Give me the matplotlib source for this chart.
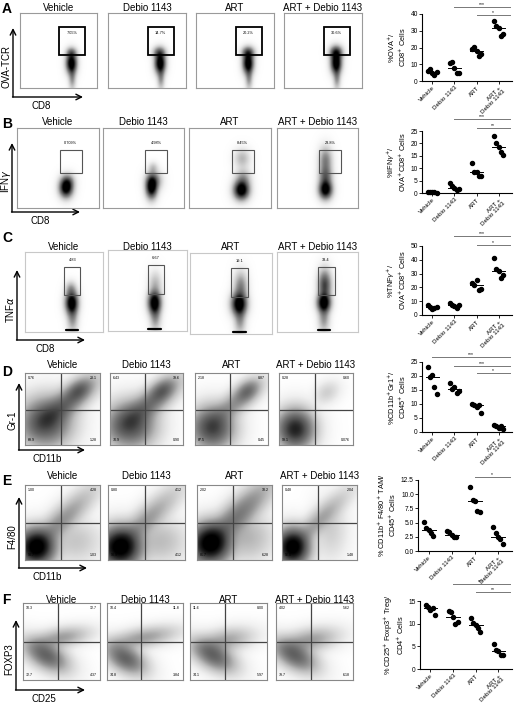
import numpy as np
import matplotlib.pyplot as plt
from matplotlib.patches import Rectangle

W, H = 520, 703

# ---- data -------------------------------------------------------------
groups = ['Vehicle', 'Debio 1143', 'ART', 'ART + Debio 1143']
dot_groups = ['Vehicle', 'Debio 1143', 'ART', 'ART +\nDebio 1143']

# gate percentages shown in the flow plots (rows A-C)
ova_gate = ['7.05%', '14.7%', '20.2%', '30.6%']
ifng_gate = ['0.709%', '4.98%', '8.45%', '23.8%']
tnfa_gate = ['4.83', '6.67', '19.1', '33.4']

# quadrant values: top-left, top-right, bottom-right, bottom-left (rows D-F)
gr1_quads = [['0.76', '23.1', '1.28', '69.9'], ['6.43', '19.6', '0.90', '70.9'],
             ['2.18', '8.87', '0.45', '87.5'], ['0.28', '0.60', '0.076', '99.1']]
f480_quads = [['1.00', '4.28', '1.03', '93.7'], ['0.80', '4.12', '4.12', '90.9'],
              ['2.02', '18.2', '6.28', '81.7'], ['0.48', '2.04', '1.48', '96.0']]
foxp3_quads = [['10.3', '12.7', '4.37', '72.7'], ['10.4', '11.8', '3.84', '74.8'],
               ['11.6', '8.00', '5.97', '74.1'], ['4.02', '5.62', '6.18', '79.7']]

# density blobs (cx, cy, sx, sy, angle, weight) per flow panel
ova_blobs = [
    [(0.67, 0.33, 0.030, 0.060, 0, 1.0), (0.68, 0.14, 0.020, 0.070, 0, 0.25), (0.67, 0.47, 0.030, 0.030, 0, 0.30)],
    [(0.67, 0.33, 0.030, 0.060, 0, 1.0), (0.68, 0.14, 0.020, 0.070, 0, 0.25), (0.66, 0.47, 0.035, 0.035, 0, 0.40)],
    [(0.67, 0.33, 0.030, 0.060, 0, 1.0), (0.68, 0.14, 0.020, 0.070, 0, 0.25), (0.67, 0.47, 0.035, 0.035, 0, 0.50)],
    [(0.67, 0.33, 0.030, 0.060, 0, 1.0), (0.68, 0.14, 0.020, 0.070, 0, 0.25), (0.67, 0.47, 0.035, 0.040, 0, 0.65)],
]
ifng_blobs = [
    [(0.60, 0.25, 0.035, 0.050, 0, 1.0), (0.62, 0.33, 0.035, 0.040, 0, 0.30)],
    [(0.60, 0.26, 0.030, 0.060, 0, 1.0), (0.63, 0.34, 0.040, 0.050, 0, 0.35), (0.62, 0.50, 0.025, 0.030, 0, 0.12)],
    [(0.64, 0.22, 0.040, 0.050, 0, 1.0), (0.66, 0.35, 0.040, 0.060, 0, 0.25), (0.65, 0.62, 0.040, 0.050, 0, 0.15)],
    [(0.60, 0.23, 0.035, 0.050, 0, 1.0), (0.60, 0.40, 0.035, 0.060, 0, 0.40), (0.60, 0.60, 0.035, 0.070, 0, 0.30)],
]
tnfa_blobs = [
    [(0.60, 0.36, 0.035, 0.060, 0, 1.0), (0.61, 0.18, 0.030, 0.080, 0, 0.25), (0.59, 0.53, 0.030, 0.040, 0, 0.20)],
    [(0.59, 0.35, 0.035, 0.060, 0, 1.0), (0.60, 0.18, 0.030, 0.080, 0, 0.25), (0.60, 0.57, 0.035, 0.070, 0, 0.15)],
    [(0.60, 0.37, 0.040, 0.060, 0, 1.0), (0.61, 0.18, 0.030, 0.080, 0, 0.25), (0.62, 0.58, 0.035, 0.080, 0, 0.30)],
    [(0.58, 0.36, 0.035, 0.050, 0, 1.0), (0.58, 0.18, 0.030, 0.080, 0, 0.25), (0.59, 0.58, 0.035, 0.080, 0, 0.55)],
]
# thin saturated bar at the bottom of each TNFa panel (x centre)
tnfa_floor = [0.60, 0.59, 0.60, 0.58]
gr1_blobs = [
    [(0.28, 0.32, 0.15, 0.15, 0, 0.9), (0.55, 0.58, 0.24, 0.08, 40, 0.55), (0.72, 0.76, 0.09, 0.06, 40, 0.45)],
    [(0.28, 0.28, 0.15, 0.14, 0, 0.9), (0.55, 0.58, 0.24, 0.08, 40, 0.50), (0.72, 0.76, 0.09, 0.06, 40, 0.45)],
    [(0.24, 0.24, 0.13, 0.13, 0, 1.0), (0.55, 0.58, 0.20, 0.07, 40, 0.30), (0.72, 0.75, 0.09, 0.06, 40, 0.45)],
    [(0.22, 0.22, 0.11, 0.12, 0, 1.3), (0.65, 0.73, 0.08, 0.06, 40, 0.08)],
]
f480_blobs = [
    [(0.15, 0.17, 0.10, 0.10, 0, 2.0), (0.45, 0.48, 0.28, 0.07, 45, 0.25), (0.68, 0.25, 0.14, 0.12, 0, 0.07)],
    [(0.16, 0.17, 0.11, 0.11, 0, 2.0), (0.45, 0.48, 0.28, 0.07, 45, 0.22), (0.68, 0.25, 0.14, 0.12, 0, 0.10)],
    [(0.18, 0.22, 0.11, 0.11, 0, 2.0), (0.50, 0.55, 0.30, 0.08, 45, 0.40), (0.68, 0.30, 0.14, 0.13, 0, 0.12)],
    [(0.14, 0.17, 0.09, 0.10, 0, 2.0), (0.45, 0.48, 0.26, 0.06, 45, 0.18), (0.65, 0.40, 0.09, 0.16, 0, 0.05)],
]
foxp3_blobs = [
    [(0.30, 0.32, 0.08, 0.15, 60, 0.9), (0.50, 0.55, 0.17, 0.06, 10, 0.40)],
    [(0.24, 0.28, 0.08, 0.14, 60, 0.9), (0.48, 0.55, 0.21, 0.06, 10, 0.40)],
    [(0.30, 0.32, 0.08, 0.15, 60, 0.9), (0.48, 0.52, 0.16, 0.07, 10, 0.35)],
    [(0.24, 0.32, 0.08, 0.15, 60, 0.9), (0.45, 0.52, 0.17, 0.07, 10, 0.40)],
]

# dot plot values (five mice per group)
ova_vals = [[6.0, 7.0, 5.0, 3.5, 5.5], [10.5, 11.5, 8.0, 4.5, 5.0],
            [19.0, 20.5, 18.0, 15.0, 16.0], [36.0, 33.0, 31.5, 27.0, 28.0]]
ifng_vals = [[0.5, 0.3, 0.4, 0.6, 0.2], [4.2, 3.0, 2.2, 1.2, 1.5],
             [12.0, 8.5, 8.6, 6.8, 6.9], [22.8, 20.0, 18.5, 16.5, 15.5]]
tnfa_vals = [[7.0, 6.0, 4.5, 5.0, 6.0], [9.0, 7.0, 6.5, 5.0, 7.5],
             [23.0, 22.0, 25.0, 18.0, 18.5], [41.0, 33.0, 32.0, 27.0, 29.0]]
gr1_vals = [[23.3, 19.5, 20.5, 16.0, 13.5], [17.5, 15.5, 16.0, 14.0, 14.5],
            [10.0, 9.5, 9.0, 9.8, 6.8], [2.5, 2.0, 1.5, 2.2, 1.0]]
f480_vals = [[5.1, 4.0, 3.7, 3.2, 2.6], [3.5, 3.3, 2.9, 2.5, 2.4],
             [11.2, 9.0, 8.8, 7.0, 6.9], [4.2, 3.1, 2.4, 2.1, 1.2]]
foxp3_vals = [[14.2, 13.7, 13.0, 13.4, 12.0], [12.9, 12.6, 11.5, 10.0, 10.3],
              [11.2, 10.1, 9.8, 9.0, 8.1], [5.6, 4.3, 3.9, 3.1, 3.0]]

# ---- figure -----------------------------------------------------------
fig = plt.figure(figsize=(W / 100, H / 100), dpi=100)
plt.rcParams['font.family'] = ['Liberation Sans', 'DejaVu Sans']

# overlay in pixel coordinates for letters, titles and axis arrows
ov = fig.add_axes([0, 0, 1, 1])
ov.set_xlim(0, W)
ov.set_ylim(H, 0)
ov.axis('off')


def px_axes(x0, y0, x1, y1):
    return fig.add_axes([x0 / W, 1 - y1 / H, (x1 - x0) / W, (y1 - y0) / H])


def density(blobs, spread, n=140):
    g = np.linspace(0, 1, n)
    X, Y = np.meshgrid(g, g)
    Z = np.zeros_like(X)
    for cx, cy, sx, sy, ang, w in blobs:
        t = np.deg2rad(ang)
        u = (X - cx) * np.cos(t) + (Y - cy) * np.sin(t)
        v = -(X - cx) * np.sin(t) + (Y - cy) * np.cos(t)
        Z += w * np.exp(-0.5 * ((u / (sx * spread)) ** 2 + (v / (sy * spread)) ** 2))
    return Z


def flow_panel(box, blobs, gamma=0.6, vmax=1.0, spread=1.4, edge='#9a9a9a'):
    ax = px_axes(*box)
    Z = density(blobs, spread) ** gamma
    ax.imshow(Z, extent=[0, 1, 0, 1], origin='lower', cmap='Greys',
              vmin=0, vmax=vmax, aspect='auto', interpolation='bilinear')
    ax.set_xlim(0, 1)
    ax.set_ylim(0, 1)
    ax.set_xticks([])
    ax.set_yticks([])
    for s in ax.spines.values():
        s.set_color(edge)
        s.set_linewidth(0.8)
    return ax


def row_frame(letter, letter_y, title_y, boxes, xlab, ylab, arrow):
    ov.text(2, letter_y, letter, fontsize=10, fontweight='bold', va='center')
    for (x0, y0, x1, y1), name in zip(boxes, groups):
        ov.text((x0 + x1) / 2, title_y, name, fontsize=7, ha='center', va='center')
    ax_x, y_top, y_bot, x_end = arrow
    ov.annotate('', xy=(ax_x, y_top), xytext=(ax_x, y_bot),
                arrowprops=dict(arrowstyle='->', lw=1.0, color='black', shrinkA=0, shrinkB=0))
    ov.annotate('', xy=(x_end, y_bot), xytext=(ax_x - 0.5, y_bot),
                arrowprops=dict(arrowstyle='->', lw=1.0, color='black', shrinkA=0, shrinkB=0))
    ov.text(max(ax_x - 7, 6), (y_top + y_bot) / 2 + 4, ylab, rotation=90, fontsize=7,
            ha='center', va='center')
    ov.text(ax_x + 28, y_bot + 9, xlab, fontsize=7, ha='center', va='center')


# Row A
boxes_a = [(20, 13, 97, 88), (108, 13, 186, 88), (196, 13, 274, 88), (284, 13, 362, 88)]
row_frame('A', 9, 8, boxes_a, 'CD8', 'OVA-TCR', (13, 28, 97, 83))
for box, blobs, lab in zip(boxes_a, ova_blobs, ova_gate):
    ax = flow_panel(box, blobs, gamma=0.55, vmax=0.9)
    ax.add_patch(Rectangle((0.51, 0.44), 0.33, 0.37, fill=False, ec='black', lw=1.3))
    ax.text(0.675, 0.74, lab, fontsize=2.8, ha='center', va='center')

# Row B
boxes_b = [(17, 128, 99, 208), (103, 128, 184, 208), (189, 128, 271, 208), (277, 128, 358, 208)]
row_frame('B', 124, 122, boxes_b, 'CD8', 'IFN$\\gamma$', (12, 143, 212, 80))
for box, blobs, lab in zip(boxes_b, ifng_blobs, ifng_gate):
    ax = flow_panel(box, blobs, gamma=0.55, vmax=0.9)
    ax.add_patch(Rectangle((0.52, 0.44), 0.27, 0.28, fill=False, ec='#555555', lw=0.8))
    ax.text(0.655, 0.81, lab, fontsize=2.8, ha='center', va='center')

# Row C
boxes_c = [(25, 252, 103, 332), (108, 250, 187, 331), (190, 253, 272, 334), (277, 252, 358, 332)]
row_frame('C', 238, 247, boxes_c, 'CD8', 'TNF$\\alpha$', (17, 270, 340, 85))
for box, blobs, lab, fx in zip(boxes_c, tnfa_blobs, tnfa_gate, tnfa_floor):
    ax = flow_panel(box, blobs, gamma=0.55, vmax=0.9, edge='#c8c8c8')
    ax.add_patch(Rectangle((0.50, 0.46), 0.21, 0.35, fill=False, ec='#555555', lw=0.8))
    ax.text(0.605, 0.9, lab, fontsize=2.8, ha='center', va='center')
    ax.plot([fx - 0.08, fx + 0.08], [0.025, 0.025], color='black', lw=1.6,
            solid_capstyle='round')


def quad_panel(box, blobs, quads, qx, qy, gamma=0.4, vmax=1.25):
    ax = flow_panel(box, blobs, gamma=gamma, vmax=vmax, spread=1.25, edge='#888888')
    ax.axvline(qx, color='#444444', lw=0.9)
    ax.axhline(qy, color='#444444', lw=0.9)
    tl, tr, br, bl = quads
    ax.text(0.04, 0.93, tl, fontsize=2.6, ha='left', va='center')
    ax.text(0.96, 0.93, tr, fontsize=2.6, ha='right', va='center')
    ax.text(0.96, 0.07, br, fontsize=2.6, ha='right', va='center')
    ax.text(0.04, 0.07, bl, fontsize=2.6, ha='left', va='center')
    return ax


# Row D
boxes_d = [(25, 373, 100, 445), (110, 373, 183, 445), (195, 373, 268, 445), (279, 373, 353, 445)]
row_frame('D', 372, 365, boxes_d, 'CD11b', 'Gr-1', (19, 383, 450, 85))
for box, blobs, q in zip(boxes_d, gr1_blobs, gr1_quads):
    quad_panel(box, blobs, q, 0.48, 0.48)

# Row E
boxes_e = [(25, 485, 100, 560), (108, 485, 185, 560), (197, 485, 272, 560), (282, 485, 357, 560)]
row_frame('E', 481, 476, boxes_e, 'CD11b', 'F4/80', (19, 497, 568, 87))
for box, blobs, q in zip(boxes_e, f480_blobs, f480_quads):
    quad_panel(box, blobs, q, 0.48, 0.5, gamma=0.35, vmax=1.2)

# Row F
boxes_f = [(23, 603, 100, 680), (107, 603, 183, 680), (190, 603, 267, 680), (276, 603, 353, 680)]
row_frame('F', 600, 600, boxes_f, 'CD25', 'FOXP3', (16, 620, 690, 85))
for box, blobs, q in zip(boxes_f, foxp3_blobs, foxp3_quads):
    quad_panel(box, blobs, q, 0.45, 0.5, gamma=0.45, vmax=1.4)


# ---- dot plots ---------------------------------------------------------
def dot_plot(left, top, bottom, ymax, ystep, vals, ylabel, sig, fmt='{:g}'):
    ax = px_axes(left, top, 512, bottom)
    for i, v in enumerate(vals):
        xs = i + np.linspace(-0.2, 0.2, len(v))
        ax.plot(xs, v, 'o', color='black', ms=2.9, clip_on=False)
        ax.plot([i - 0.3, i + 0.3], [np.median(v)] * 2, color='black', lw=0.7)
    ax.set_xlim(-0.46, 3.6)
    ax.set_ylim(0, ymax)
    ticks = np.arange(0, ymax + ystep / 2, ystep)
    ax.set_yticks(ticks)
    ax.set_yticklabels([fmt.format(t) for t in ticks], fontsize=4.8)
    ax.set_xticks(range(4))
    ax.set_xticklabels(dot_groups, fontsize=4.5, rotation=45, ha='right',
                       rotation_mode='anchor', linespacing=1.0)
    ax.tick_params(length=2, width=0.6, pad=1)
    ax.spines['top'].set_visible(False)
    ax.spines['right'].set_visible(False)
    ax.spines['left'].set_linewidth(0.8)
    ax.spines['bottom'].set_linewidth(0.8)
    ax.set_ylabel(ylabel, fontsize=5.3, labelpad=2, linespacing=1.1)
    tr = ax.get_xaxis_transform()
    for start, y_px, stars in sig:
        yf = (bottom - y_px) / (bottom - top)
        ax.plot([start, 3.5], [yf, yf], color='#777777', lw=0.7, transform=tr, clip_on=False)
        ax.text((start + 3.5) / 2, yf + 0.005, stars, fontsize=3.6, ha='center', va='bottom',
                transform=tr)
    return ax


dot_plot(422, 14, 81, 40, 10, ova_vals, '%OVA$^{+}$/\nCD8$^{+}$ Cells',
         [(1, 7, '***'), (2, 15, '*')])
dot_plot(422, 131, 193, 25, 5, ifng_vals, '%IFN$\\gamma^{+}$/\nOVA$^{+}$CD8$^{+}$ Cells',
         [(1, 119, '***'), (2, 128, '**')])
dot_plot(422, 246, 315, 50, 10, tnfa_vals, '%TNF$\\gamma^{+}$/\nOVA$^{+}$CD8$^{+}$ Cells',
         [(1, 236, '***'), (2, 245, '*')])
dot_plot(422, 362, 432, 25, 5, gr1_vals, '%CD11b$^{+}$Gr1$^{+}$/\nCD45$^{+}$ Cells',
         [(0, 357, '***'), (1, 366, '***'), (2, 373, '*')])
dot_plot(418, 480, 551, 12.5, 2.5, f480_vals, '% CD11b$^{+}$ F4/80$^{+}$ TAM/\nCD45$^{+}$ Cells',
         [(2, 477, '*')], fmt='{:.1f}')
dot_plot(420, 601, 669, 15, 5, foxp3_vals, '% CD25$^{+}$ Foxp3$^{+}$ Treg/\nCD4$^{+}$ Cells',
         [(1, 584, '***'), (2, 592, '**')])

fig.savefig('out.png', dpi=100)
